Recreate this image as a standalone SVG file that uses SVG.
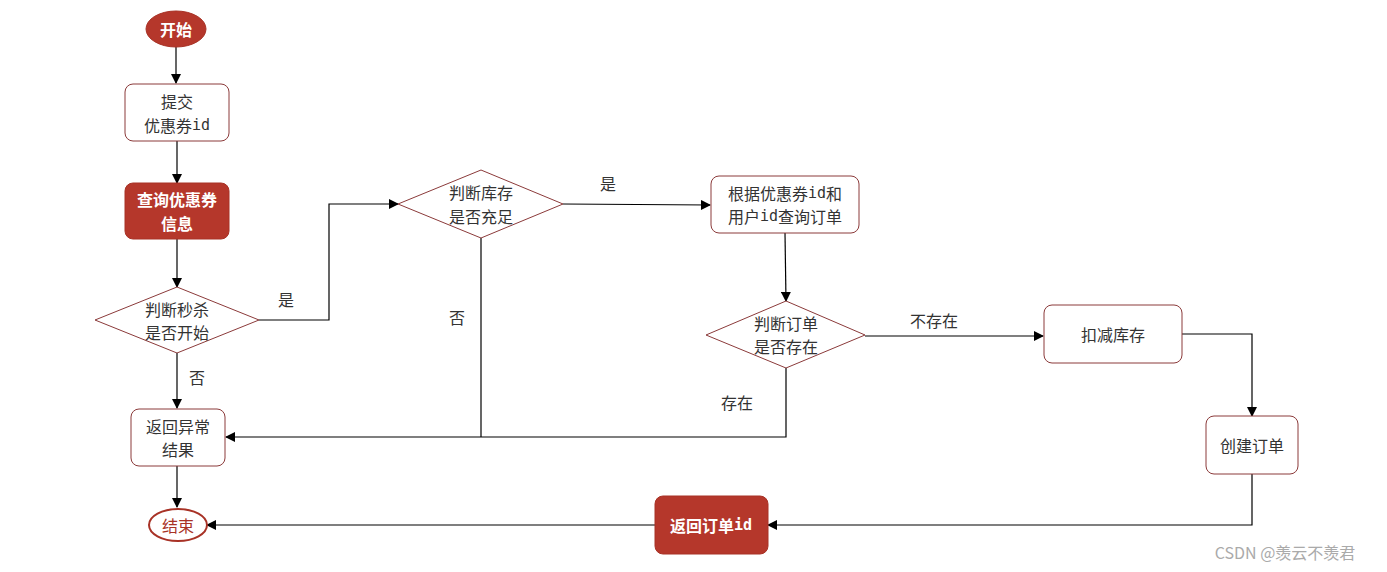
<svg xmlns="http://www.w3.org/2000/svg" width="1387" height="572" viewBox="0 0 1387 572">
<defs>
<marker id="ah" markerWidth="10" markerHeight="10" refX="9" refY="5" orient="auto" markerUnits="userSpaceOnUse">
<path d="M0,0 L10,5 L0,10 Z" fill="#000"/>
</marker>
<style>
text{font-family:"Noto Sans CJK SC","Noto Sans",sans-serif;font-size:16px;text-anchor:middle;dominant-baseline:central}
.m{font-family:"DejaVu Sans Mono","Liberation Mono",monospace;font-size:15px}
.t{fill:#333}
.w{fill:#fff;font-weight:bold}
.box{fill:#fff;stroke:#8b3a3a;stroke-width:1}
.red{fill:#b5372b;stroke:#a83226;stroke-width:1}
.c{fill:none;stroke:#000;stroke-width:1.2}
.a{marker-end:url(#ah)}
.lbl{fill:#333;font-size:16px}
</style>
</defs>
<rect width="1387" height="572" fill="#fff"/>
<g id="connectors">
<path class="c a" d="M176,47 L176,83"/>
<path class="c a" d="M177,141 L177,183"/>
<path class="c a" d="M177,239 L177,287"/>
<path class="c a" d="M259,320 L329,320 L329,204 L398,204"/>
<path class="c a" d="M563,204 L710,205"/>
<path class="c" d="M481,238 L481,437"/>
<path class="c a" d="M786,368 L786,437 L226,437"/>
<path class="c a" d="M785,233 L786,301"/>
<path class="c a" d="M865,336 L1043,336"/>
<path class="c a" d="M1182,334 L1252,334 L1252,416"/>
<path class="c a" d="M1252,474 L1252,525 L768,525"/>
<path class="c a" d="M655,525 L207,525"/>
<path class="c a" d="M177,353 L177,408"/>
<path class="c a" d="M177,466 L177,507"/>
<text class="lbl" x="286" y="299">是</text>
<text class="lbl" x="608" y="183">是</text>
<text class="lbl" x="457" y="317">否</text>
<text class="lbl" x="197" y="377">否</text>
<text class="lbl" x="934" y="320">不存在</text>
<text class="lbl" x="737" y="402">存在</text>
</g>
<g id="start">
<ellipse cx="176" cy="29" rx="30" ry="18" class="red"/>
<text class="w" x="176" y="29">开始</text>
</g>
<g id="submit">
<rect x="125" y="84" width="104" height="57" rx="8" class="box"/>
<text class="t" x="177" y="100.5">提交</text>
<text class="t" x="177" y="124.5">优惠券<tspan class="m">id</tspan></text>
</g>
<g id="query">
<rect x="125" y="183" width="104" height="56" rx="8" class="red"/>
<text class="w" x="177" y="199">查询优惠券</text>
<text class="w" x="177" y="223">信息</text>
</g>
<g id="check-start">
<path d="M95,320 L177,287 L259,320 L177,353 Z" class="box"/>
<text class="t" x="177" y="308.5">判断秒杀</text>
<text class="t" x="177" y="332">是否开始</text>
</g>
<g id="check-stock">
<path d="M398,204 L481,170 L563,204 L481,238 Z" class="box"/>
<text class="t" x="481" y="192">判断库存</text>
<text class="t" x="481" y="215.5">是否充足</text>
</g>
<g id="query-order">
<rect x="711" y="176" width="148" height="57" rx="8" class="box"/>
<text class="t" x="785" y="192.5">根据优惠券<tspan class="m">id</tspan>和</text>
<text class="t" x="785" y="216">用户<tspan class="m">id</tspan>查询订单</text>
</g>
<g id="check-order">
<path d="M706,335 L786,301 L865,335 L786,368 Z" class="box"/>
<text class="t" x="786" y="322.5">判断订单</text>
<text class="t" x="786" y="346">是否存在</text>
</g>
<g id="deduct">
<rect x="1044" y="305" width="138" height="58" rx="8" class="box"/>
<text class="t" x="1113" y="334">扣减库存</text>
</g>
<g id="create-order">
<rect x="1206" y="416" width="92" height="58" rx="8" class="box"/>
<text class="t" x="1252" y="445">创建订单</text>
</g>
<g id="return-order">
<rect x="655" y="496" width="113" height="58" rx="8" class="red"/>
<text class="w" x="711" y="525">返回订单<tspan class="m">id</tspan></text>
</g>
<g id="return-error">
<rect x="131" y="409" width="94" height="57" rx="8" class="box"/>
<text class="t" x="178" y="425.5">返回异常</text>
<text class="t" x="178" y="449">结果</text>
</g>
<g id="end">
<ellipse cx="178" cy="525" rx="29" ry="16" fill="#fff" stroke="#a83226" stroke-width="2"/>
<text x="178" y="525" fill="#a83226">结束</text>
</g>
<text x="1285" y="552" fill="#aaa" font-size="17px">CSDN @羡云不羡君</text>
</svg>
